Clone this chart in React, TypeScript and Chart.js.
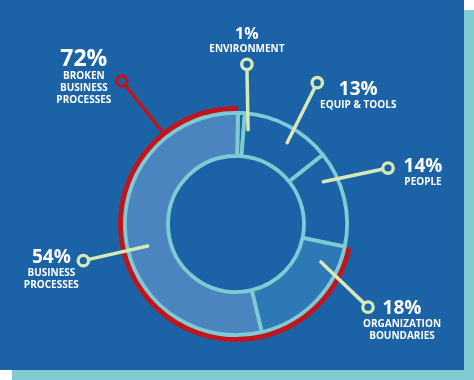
import React, { useEffect, useRef } from "react";
import { Chart, registerables } from "chart.js";

Chart.register(...registerables);

// ---- data ----
const categories = ["ENVIRONMENT", "EQUIP & TOOLS", "PEOPLE", "ORGANIZATION BOUNDARIES", "BUSINESS PROCESSES"];
const categoryLines = [["ENVIRONMENT"], ["EQUIP & TOOLS"], ["PEOPLE"], ["ORGANIZATION", "BOUNDARIES"], ["BUSINESS", "PROCESSES"]];
const values = [1, 13, 14, 18, 54];
const brokenLines = ["BROKEN", "BUSINESS", "PROCESSES"];
const brokenValue = 72;
const otherValue = 28;

// ---- styles ----
const BG = "#1b63a6";
const FRAME = "#80cbd2";
const TEAL = "#7ecbd5";
const PALE = "#d4e9b5";
const RED = "#c0151d";
const SEG_COLORS = [BG, BG, BG, "#2d79b6", "#4a85bf"];

// callout layout: angle (deg clockwise from top) / radius for the line's inner end and the ring marker,
// plus text offsets relative to the marker
const CALLOUT_LAYOUT = [
  { a1: 7.3, r1: 95, a2: 3.9, r2: 160, tx: 0, pctDy: -30, lblDy: -15.5, pctSize: 16 },
  { a1: 32.2, r1: 96, a2: 29.9, r2: 163, tx: 41, pctDy: 7, lblDy: 22, pctSize: 19 },
  { a1: 64.2, r1: 97, a2: 69.8, r2: 162, tx: 35, pctDy: -1, lblDy: 14, pctSize: 19 },
  { a1: 114.1, r1: 93, a2: 122.2, r2: 156, tx: 34, pctDy: 1.5, lblDy: 17.5, pctSize: 19 },
  { a1: 256, r1: 91, a2: 256.5, r2: 157, tx: -32, pctDy: -3, lblDy: 12.5, pctSize: 19 },
];
const BROKEN_LAYOUT = { a1: 321.4, r1: 118, a2: 321.4, r2: 183, tx: -38, pctDy: -22, lblDy: -5, pctSize: 23 };

const FONT = '"Open Sans", "Liberation Sans", sans-serif';

const calloutPlugin = {
  id: "callouts",
  afterDatasetsDraw(chart: any) {
    const meta = chart.getDatasetMeta(1);
    const arc = meta.data[0];
    if (!arc) return;
    const cx = arc.x;
    const cy = arc.y;
    const ctx = chart.ctx as CanvasRenderingContext2D;
    const pt = (a: number, r: number) => {
      const t = ((a - 90) * Math.PI) / 180;
      return [cx + r * Math.cos(t), cy + r * Math.sin(t)];
    };
    const items = categoryLines.map((lines, i) => ({
      lines,
      pct: values[i] + "%",
      color: PALE,
      lay: CALLOUT_LAYOUT[i],
    }));
    items.push({ lines: brokenLines, pct: brokenValue + "%", color: RED, lay: BROKEN_LAYOUT });

    ctx.save();
    items.forEach((it) => {
      const { lay } = it;
      const [x1, y1] = pt(lay.a1, lay.r1);
      const [x2, y2] = pt(lay.a2, lay.r2);
      ctx.strokeStyle = it.color;
      ctx.lineWidth = 3.5;
      ctx.lineCap = "round";
      ctx.beginPath();
      ctx.moveTo(x1, y1);
      ctx.lineTo(x2, y2);
      ctx.stroke();
      ctx.beginPath();
      ctx.arc(x2, y2, 5.2, 0, Math.PI * 2);
      ctx.fillStyle = BG;
      ctx.fill();
      ctx.lineWidth = 3.3;
      ctx.stroke();

      ctx.fillStyle = "#ffffff";
      ctx.textAlign = "center";
      ctx.textBaseline = "middle";
      ctx.font = `700 ${lay.pctSize}px ${FONT}`;
      ctx.fillText(it.pct, x2 + lay.tx, y2 + lay.pctDy);
      ctx.font = `700 10px ${FONT}`;
      it.lines.forEach((l, k) => {
        ctx.fillText(l, x2 + lay.tx, y2 + lay.lblDy + k * 12);
      });
    });
    ctx.restore();
  },
};

export default function App() {
  const ref = useRef<HTMLCanvasElement>(null);
  useEffect(() => {
    if (!ref.current) return;
    const chart = new Chart(ref.current, {
      type: "doughnut",
      data: {
        labels: categories,
        datasets: [
          {
            label: "Broken business processes",
            data: [otherValue, brokenValue],
            backgroundColor: ["rgba(0,0,0,0)", RED],
            borderWidth: 0,
            weight: 7,
            order: 1,
          } as any,
          {
            label: "Share",
            data: values,
            backgroundColor: SEG_COLORS,
            borderColor: TEAL,
            borderWidth: 3.8,
            hoverBorderWidth: 3.8,
            weight: 44,
            order: 0,
          } as any,
        ],
      },
      options: {
        responsive: false,
        animation: false,
        events: [],
        rotation: 1,
        cutout: 68,
        layout: { padding: { left: 118, right: 120, top: 106, bottom: 38 } },
        plugins: { legend: { display: false }, tooltip: { enabled: false } },
      } as any,
      plugins: [calloutPlugin],
    });
    return () => chart.destroy();
  }, []);

  return (
    <div style={{ position: "absolute", left: 0, top: 0, width: 474, height: 380, background: "#ffffff", overflow: "hidden" }}>
      <div style={{ position: "absolute", left: 12, top: 10, width: 462, height: 370, background: FRAME }} />
      <div style={{ position: "absolute", left: 0, top: 0, width: 464, height: 370, background: BG }} />
      <canvas ref={ref} width={474} height={380} style={{ position: "absolute", left: 0, top: 0, width: 474, height: 380 }} />
    </div>
  );
}
